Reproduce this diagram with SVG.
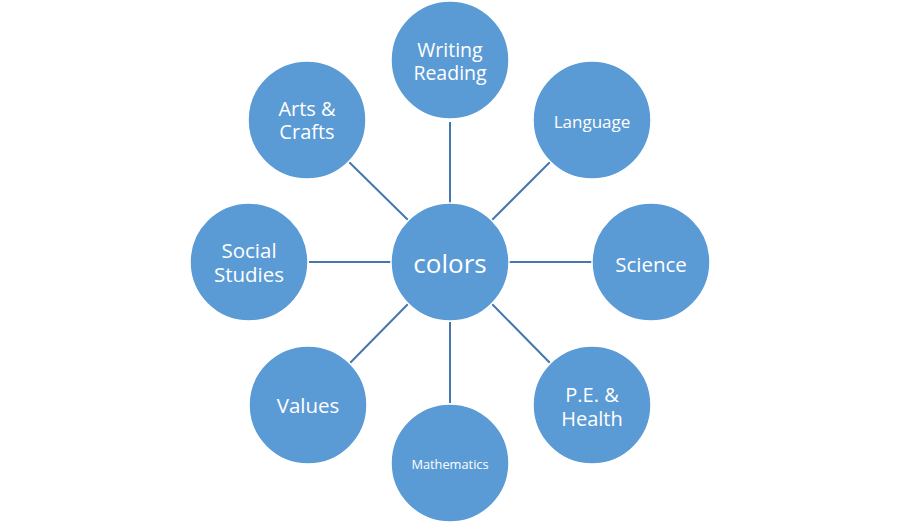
<svg xmlns="http://www.w3.org/2000/svg" width="900" height="525" viewBox="0 0 900 525">
<style>
.n{fill:#5B9BD5;stroke:#ffffff;stroke-width:1.5}
.t{font-family:"Open Sans","Noto Sans",sans-serif;fill:#ffffff;text-anchor:middle}
.c{stroke:#4576AE;stroke-width:2;fill:none}
</style>
<rect width="900" height="525" fill="#ffffff"/>
<g id="connectors">
<line class="c" x1="450" y1="122" x2="450" y2="203"/>
<line class="c" x1="550" y1="162" x2="492" y2="220"/>
<line class="c" x1="509" y1="262" x2="592" y2="262"/>
<line class="c" x1="492" y1="304" x2="550" y2="363"/>
<line class="c" x1="450" y1="322" x2="450" y2="403"/>
<line class="c" x1="408" y1="304" x2="350" y2="363"/>
<line class="c" x1="309" y1="262" x2="391" y2="262"/>
<line class="c" x1="349" y1="162" x2="408" y2="220"/>
</g>
<g id="center">
<circle class="n" cx="450" cy="262" r="59"/>
<text class="t" x="450" y="273" font-size="26">colors</text>
</g>
<g id="writing-reading">
<circle class="n" cx="450" cy="60" r="59"/>
<text class="t" x="450" y="57" font-size="19.5">Writing</text>
<text class="t" x="450" y="80" font-size="19.5">Reading</text>
</g>
<g id="language">
<circle class="n" cx="592" cy="120" r="59"/>
<text class="t" x="592" y="128" font-size="17">Language</text>
</g>
<g id="science">
<circle class="n" cx="651" cy="262" r="59"/>
<text class="t" x="651" y="272" font-size="20.5">Science</text>
</g>
<g id="pe-health">
<circle class="n" cx="592" cy="405" r="59"/>
<text class="t" x="592" y="402" font-size="20">P.E. &amp;</text>
<text class="t" x="592" y="426" font-size="20">Health</text>
</g>
<g id="mathematics">
<circle class="n" cx="450" cy="463" r="59"/>
<text class="t" x="450" y="469" font-size="12.8">Mathematics</text>
</g>
<g id="values">
<circle class="n" cx="308" cy="405" r="59"/>
<text class="t" x="308" y="413" font-size="20.5">Values</text>
</g>
<g id="social-studies">
<circle class="n" cx="249" cy="262" r="59"/>
<text class="t" x="249" y="258" font-size="20.5">Social</text>
<text class="t" x="249" y="282" font-size="20.5">Studies</text>
</g>
<g id="arts-crafts">
<circle class="n" cx="307" cy="120" r="59"/>
<text class="t" x="307" y="116" font-size="20">Arts &amp;</text>
<text class="t" x="307" y="139" font-size="20">Crafts</text>
</g>
</svg>
